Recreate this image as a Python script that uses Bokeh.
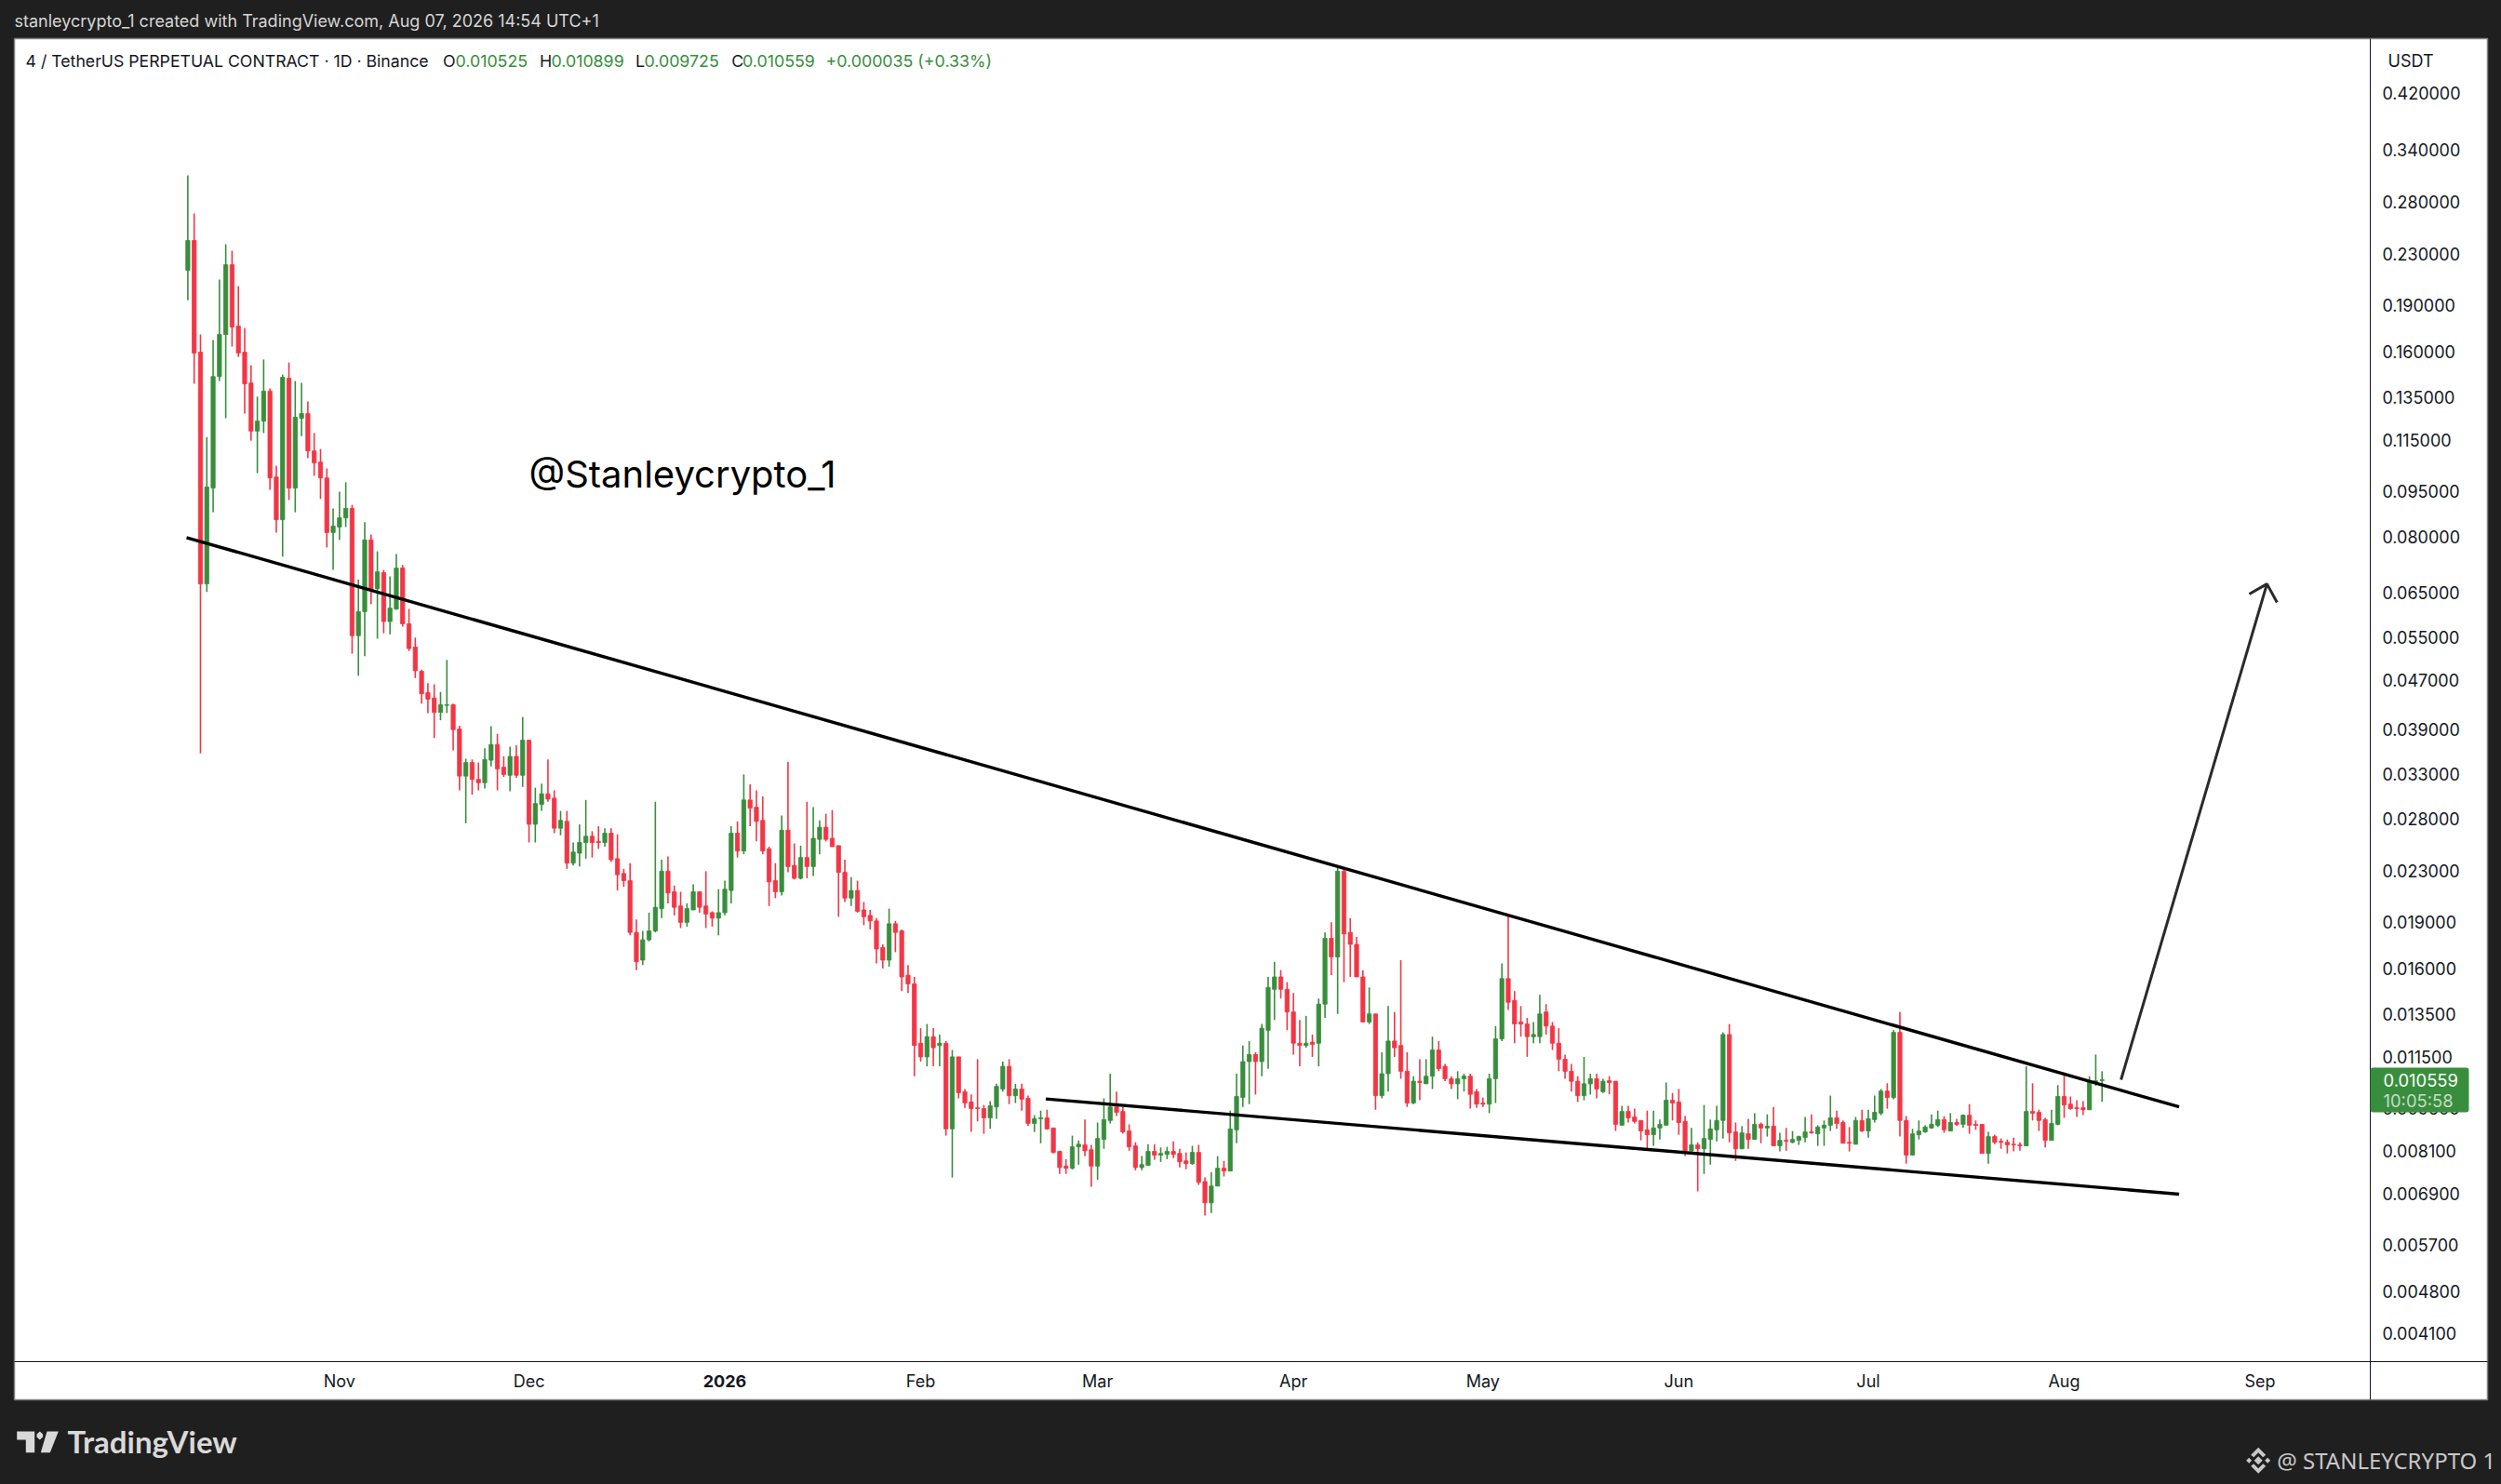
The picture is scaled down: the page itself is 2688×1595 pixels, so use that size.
from bokeh.plotting import figure
from bokeh.embed import file_html
from bokeh.resources import INLINE
from bokeh.models import (ColumnDataSource, Range1d, FixedTicker, NumeralTickFormatter, BoxAnnotation,
                          Label, PolyAnnotation, LogAxis, LinearAxis)

opens = [.2166,.2422,.1596,.0672,.0961,.1457,.1705,.2212,.1759,.1596,.1423,.1189,.1234,.1380,.1002,.0854,.1448,.0961,.1247,.1269,
.1104,.1059,.0998,.0814,.0831,.0860,.0891,.0554,.0606,.0792,.0660,.0701,.0584,.0612,.0713,.0579,.0531,.0485,.0448,.0439,
.0416,.0427,.0428,.0391,.0328,.0345,.0324,.0320,.0348,.0369,.0339,.0329,.0353,.0329,.0375,.0274,.0295,.0307,.0302,.0270,
.0277,.0237,.0246,.0256,.0262,.0257,.0256,.0265,.0241,.0228,.0222,.0183,.0165,.0178,.0184,.0200,.0230,.0213,.0202,.0190,
.0199,.0213,.0202,.0197,.0193,.0197,.0214,.0265,.0248,.0300,.0292,.0278,.0250,.0222,.0213,.0268,.0235,.0224,.0242,.0234,
.0259,.0271,.0260,.0253,.0229,.0208,.0214,.0199,.0195,.0191,.0173,.0165,.0189,.0184,.0156,.0151,.0121,.0115,.0124,.0120,
.0121,.00879,.0115,.0101,.00972,.00951,.00948,.00916,.00954,.0102,.0111,.00995,.0102,.00985,.00897,.00913,.00916,.00882,.00808,.00765,
.00759,.00822,.00828,.00813,.00765,.00845,.00907,.00954,.00938,.00872,.00825,.00761,.00767,.00808,.00797,.00799,.00808,.00802,.0078,.00772,
.00805,.00722,.00667,.0071,.00759,.00751,.00876,.00988,.0113,.0116,.0113,.0127,.0148,.0155,.0148,.0136,.0121,.012,.01215,.0121,
.014,.0179,.0167,.023,.0183,.0175,.0155,.0131,.0135,.00995,.0108,.0122,.012,.0109,.00968,.0105,.0104,.0107,.0118,.0111,
.0106,.0104,.0106,.0107,.0101,.00968,.00964,.0106,.0123,.0154,.0142,.0131,.013,.0124,.0124,.0136,.0129,.0121,.0114,.0109,
.0105,.00995,.0104,.0106,.0101,.01052,.0105,.00891,.00938,.00919,.00907,.00876,.0086,.00882,.00891,.00978,.00972,.00904,.0081,.00828,
.00816,.00845,.00876,.00907,.0125,.00869,.00816,.00863,.00845,.00894,.00882,.00888,.00825,.00842,.00836,.00842,.00851,.00869,.00863,.00882,
.00891,.00916,.009,.00836,.0083,.00907,.00872,.0091,.00932,.01012,.00988,.0126,.00907,.00797,.0086,.00869,.00882,.00891,.0091,.00872,
.009,.00894,.00925,.00894,.00894,.00802,.00854,.00839,.00836,.0083,.00828,.00825,.00938,.00935,.0091,.00842,.00894,.00992,.00964,.00951,
.00951,.00944,.01048,.010525]

highs = [.3088,.2678,.1705,.1163,.1670,.2092,.2388,.2330,.2042,.1747,.1520,.1352,.1553,.1394,.1045,.1468,.1536,.1433,.1423,.1328,
.1180,.1112,.1034,.0891,.0948,.0982,.0903,.0683,.0846,.0808,.0759,.0708,.0691,.0751,.0721,.0612,.0550,.0488,.0464,.0462,
.0449,.0506,.0430,.0396,.0350,.0349,.0345,.0364,.0395,.0384,.0353,.0366,.0368,.0409,.0375,.0314,.0319,.0349,.0311,.0288,
.0288,.0256,.0274,.0300,.0267,.0272,.0270,.0270,.0264,.0232,.0237,.0192,.0184,.0197,.0298,.0240,.0243,.0218,.0213,.0204,
.0219,.0213,.0230,.0198,.0215,.0222,.0272,.0277,.0330,.0318,.0311,.0304,.0252,.0237,.0283,.0346,.0255,.0253,.0298,.0292,
.0278,.0285,.0289,.0253,.0240,.0225,.0222,.0205,.0199,.0193,.0175,.0200,.0191,.0185,.0162,.0155,.0128,.0130,.0128,.0125,
.0122,.0118,.0115,.0102,.0100,.0114,.00961,.00975,.0104,.0113,.0114,.0104,.0104,.00995,.00925,.00941,.00944,.00882,.0081,.00785,
.00857,.00842,.0091,.00828,.0090,.00985,.0108,.0101,.00954,.00894,.00836,.00794,.0083,.0083,.0082,.00822,.00839,.00816,.00805,.00825,
.00828,.00733,.00748,.00794,.0078,.00941,.0108,.0120,.0122,.0117,.0130,.0155,.0164,.0159,.0152,.0146,.0132,.0134,.0125,.0143,
.0183,.0190,.0235,.0232,.0193,.0180,.0159,.0149,.0135,.0117,.0139,.0136,.0165,.0117,.0107,.0114,.0114,.0124,.0122,.0112,
.0107,.0109,.0108,.0108,.0102,.00988,.0108,.0129,.0163,.0195,.0147,.0139,.0133,.0131,.0145,.0140,.0131,.0128,.0116,.0112,
.0107,.0115,.0108,.0108,.0106,.0107,.0105,.00958,.00958,.00948,.00907,.00941,.00941,.0091,.01045,.01005,.0102,.00922,.00882,.00836,
.00961,.0091,.00958,.0126,.0130,.0090,.00888,.00913,.00932,.0090,.00928,.00954,.00866,.00882,.00872,.00857,.00919,.00928,.00891,.00907,
.00995,.00941,.00907,.00885,.00919,.00944,.00944,.00995,.0102,.01042,.0127,.0136,.00922,.00879,.00907,.00891,.00928,.00941,.00922,.00932,
.00913,.00928,.00964,.00907,.00894,.00869,.0086,.00848,.00845,.00851,.00836,.0111,.01042,.00944,.00916,.00944,.01035,.01085,.00992,.00978,
.00975,.0107,.0116,.010899]

lows = [.1938,.1418,.0357,.0652,.0878,.1433,.1247,.1630,.1568,.1269,.1147,.1016,.1180,.0955,.0814,.0744,.0919,.0878,.1167,.1074,
.1006,.0923,.0770,.0708,.0792,.0831,.0518,.0477,.0513,.0623,.0548,.0559,.0557,.0610,.0573,.0523,.0473,.0430,.0415,.0378,
.0404,.0415,.0361,.0311,.0275,.0306,.0311,.0313,.0340,.0311,.0327,.0310,.0326,.0315,.0256,.0256,.0288,.0298,.0265,.0263,
.0232,.0235,.0234,.0241,.0242,.0250,.0252,.0238,.0214,.0217,.0181,.0159,.0162,.0177,.0183,.0193,.0204,.0195,.0186,.0187,
.0199,.0197,.0186,.0187,.0181,.0195,.0204,.0242,.0245,.0272,.0257,.0245,.0202,.0208,.0210,.0229,.0223,.0223,.0224,.0226,
.0245,.0257,.0252,.0194,.0205,.0202,.0197,.0188,.0185,.0163,.0160,.0161,.0170,.0147,.0146,.0107,.0113,.0111,.0111,.0111,
.00857,.00733,.00985,.00951,.00869,.00904,.00863,.00879,.00913,.0101,.00964,.00968,.00941,.00888,.00869,.00833,.00876,.00802,.00743,.00743,
.00755,.00769,.00794,.00708,.00727,.00816,.00897,.00922,.00863,.0081,.00753,.00753,.00767,.00783,.00777,.00785,.00788,.00761,.00756,.00769,
.00713,.00636,.00642,.0071,.00736,.00751,.00833,.00954,.00964,.00999,.0107,.0110,.0132,.0143,.0127,.0116,.0111,.0119,.0115,.0111,
.0133,.0156,.0135,.0152,.0155,.0155,.0131,.0130,.00944,.00985,.0101,.0115,.0106,.00954,.00964,.00978,.0104,.0102,.0109,.0105,
.0102,.00982,.0101,.00948,.00951,.00954,.00932,.00968,.0122,.0137,.0121,.0124,.0115,.0121,.0121,.0125,.0118,.0109,.0106,.0101,
.00972,.00978,.00999,.00985,.01005,.0100,.00872,.00891,.0090,.00897,.00842,.00816,.00825,.00845,.00891,.00907,.0086,.00794,.00799,.00696,
.00743,.00769,.00839,.00848,.00836,.0078,.00816,.00816,.00845,.00833,.00854,.00825,.00808,.0081,.00833,.00828,.00836,.00863,.00825,.00825,
.00872,.00879,.00833,.00808,.0083,.00869,.00851,.0090,.00925,.00948,.00982,.00854,.00772,.00797,.00845,.00866,.00879,.00885,.00866,.00872,
.00888,.00882,.00863,.00876,.00802,.00772,.0083,.00816,.00802,.00808,.0081,.00825,.00907,.00872,.0082,.00842,.00891,.00916,.00944,.00919,
.00925,.00944,.01032,.009725]

closes = [.2422,.1591,.0672,.0965,.1457,.1705,.2212,.1753,.1591,.1418,.1189,.1234,.1380,.0998,.0854,.1453,.0961,.1252,.1269,.1104,
.1056,.0998,.0814,.0834,.0860,.0891,.0554,.0606,.0792,.0655,.0703,.0584,.0614,.0713,.0579,.0528,.0486,.0446,.0437,.0416,
.0428,.0428,.0390,.0328,.0345,.0324,.0320,.0349,.0369,.0337,.0330,.0353,.0329,.0375,.0274,.0296,.0307,.0301,.0270,.0278,
.0237,.0247,.0256,.0262,.0256,.0256,.0265,.0240,.0227,.0222,.0183,.0164,.0178,.0184,.0201,.0230,.0212,.0201,.0190,.0200,
.0213,.0201,.0196,.0193,.0197,.0215,.0265,.0248,.0300,.0291,.0277,.0248,.0221,.0213,.0268,.0234,.0224,.0242,.0234,.0260,
.0271,.0259,.0252,.0229,.0208,.0214,.0198,.0194,.0191,.0172,.0165,.0189,.0183,.0155,.0151,.0120,.0115,.0124,.0119,.0121,
.00879,.0115,.01006,.00968,.00948,.00948,.00916,.00958,.0103,.0111,.00995,.0102,.00982,.00897,.00913,.00916,.00879,.00805,.00761,.00759,
.00822,.0083,.0081,.00765,.00848,.0091,.00954,.00935,.00869,.00822,.00761,.00769,.00808,.00797,.00802,.00808,.00799,.00777,.00772,.00805,
.0072,.00667,.0071,.00759,.00751,.00879,.00992,.0113,.0116,.0113,.0128,.0149,.0155,.0148,.0136,.0121,.0120,.0121,.01205,.0140,
.0179,.0167,.0230,.0182,.0175,.0155,.0131,.0135,.00995,.0108,.0122,.0119,.0109,.00968,.0105,.01045,.0107,.0118,.0110,.0106,
.0104,.0106,.0107,.0100,.00964,.00964,.0106,.0123,.0154,.0141,.0130,.0130,.0124,.0125,.0135,.0129,.0121,.0114,.0109,.0105,
.00995,.0104,.0106,.0102,.0105,.01045,.00894,.00938,.00916,.00904,.00872,.0086,.00882,.00894,.00978,.00968,.0090,.0081,.00828,.00816,
.00848,.00879,.00907,.0125,.00866,.00816,.00866,.00845,.00894,.00882,.00888,.00825,.00842,.00839,.00845,.00854,.00869,.00866,.00885,.00891,
.00916,.00897,.00833,.00833,.00907,.00872,.00913,.00935,.01012,.00988,.0126,.00907,.00797,.00863,.00872,.00885,.00894,.0091,.00876,.0090,
.00894,.00925,.00891,.00891,.00802,.00854,.00836,.00836,.00828,.00828,.00825,.00938,.00932,.00907,.00842,.00897,.00992,.00961,.00948,.00948,
.00944,.0105,.01052,.010559]

price_ticks = [.42,.34,.28,.23,.19,.16,.135,.115,.095,.08,.065,.055,.047,.039,.033,.028,.023,.019,.016,.0135,.0115,.0095,.0081,.0069,.0057,.0048,.0041]
month_days = [24,54,85,116,144,175,205,236,266,297,328]
month_labels = ["Nov","Dec","","Feb","Mar","Apr","May","Jun","Jul","Aug","Sep"]
year_day, year_label = 85, "2026"
upper_trend_days, upper_trend_prices = [-0.2,315.2], [.0799,.00954]
lower_trend_days, lower_trend_prices = [135.8,315.2], [.00983,.00689]
arrow_days, arrow_prices = [306,329.1], [.01056,.0672]
head_days, head_prices = [326.3,329.1,330.7], [.0647,.0672,.0627]
last_close = .010559
pane_left_day, price_axis_day, pane_right_day = -27.45, 345.45, 364.0
pane_top_price, time_axis_price, pane_bottom_price = .5145, .003686, .003197

GREEN, RED, DARK = "#388E3C", "#F23645", "#1F1F1F"
INK = "#131722"
FONT = "Inter"
n = len(closes)
days = list(range(n))
colors = [GREEN if c >= o else RED for o, c in zip(opens, closes)]
src = ColumnDataSource(dict(x=days, o=opens, h=highs, l=lows, c=closes,
                            top=[max(a, b) for a, b in zip(opens, closes)],
                            bottom=[min(a, b) for a, b in zip(opens, closes)], color=colors))

W, H = 2688, 1595
p = figure(width=W, height=H, output_backend="svg", toolbar_location=None,
           y_axis_type="log", x_axis_location=None, y_axis_location=None,
           x_range=Range1d(-29.66, 366.22), y_range=Range1d(.002331, .5932),
           min_border=0, border_fill_color=DARK, background_fill_color=DARK, outline_line_color=None)
p.grid.visible = False

def box(l, r, t, b, color, level="annotation", line=None, lw=1, radius=0):
    p.add_layout(BoxAnnotation(left=l, right=r, top=t, bottom=b,
                               left_units="canvas", right_units="canvas", top_units="canvas", bottom_units="canvas",
                               fill_color=color, fill_alpha=1, line_color=line or color, line_alpha=1 if line else 0,
                               line_width=lw, level=level, border_radius=radius))

def label(x, y, text, color=INK, size=18, align="left", style="normal", font=FONT, units="canvas"):
    p.add_layout(Label(x=x, y=y, text=text, x_units=units, y_units="canvas",
                       text_color=color, text_font_size=f"{size}px", text_font=font, text_align=align,
                       text_baseline="middle", text_font_style=style))

def poly(pts, color):
    p.add_layout(PolyAnnotation(xs=[a for a, _ in pts], ys=[b for _, b in pts], xs_units="canvas", ys_units="canvas",
                                fill_color=color, fill_alpha=1, line_alpha=0, level="annotation"))

box(15, 2673, 41, 1504, "white", level="underlay", line="#808080", lw=1.5)

p.line([pane_left_day, price_axis_day], [last_close, last_close], color=GREEN, line_dash="2 5", line_width=1.5, level="underlay")

p.segment("x", "h", "x", "l", source=src, color="color", line_width=1.6)
p.vbar(x="x", width=0.64, top="top", bottom="bottom", source=src, fill_color="color", line_color="color", line_width=0.8)

p.line(upper_trend_days, upper_trend_prices, color="black", line_width=3.4)
p.line(lower_trend_days, lower_trend_prices, color="black", line_width=3.4)
p.line(arrow_days, arrow_prices, color="#2A2A2A", line_width=3)
p.line(head_days, head_prices, color="#2A2A2A", line_width=3)

ya = LogAxis(fixed_location=price_axis_day, bounds=(pane_bottom_price, pane_top_price))
ya.ticker = FixedTicker(ticks=price_ticks)
ya.formatter = NumeralTickFormatter(format="0.000000")
xa = LinearAxis(fixed_location=time_axis_price, bounds=(pane_left_day, pane_right_day))
xa.ticker = FixedTicker(ticks=month_days)
xa.major_label_overrides = dict(zip(month_days, month_labels))
for axis in (xa, ya):
    axis.major_tick_line_color = None
    axis.minor_tick_line_color = None
    axis.axis_line_color = INK
    axis.axis_line_width = 1
    axis.major_label_text_font = FONT
    axis.major_label_text_font_size = "18px"
    axis.major_label_text_color = INK
ya.major_label_standoff = 7
xa.major_label_standoff = 4
p.add_layout(ya, "right")
p.add_layout(xa, "below")

label(year_day, 1484, year_label, size=18, align="center", style="bold", units="data")
label(2566, 65, "USDT", size=18)

box(2547, 2653, 1147, 1195, GREEN, radius=3)
label(2561, 1160, "0.010559", color="white", size=18.4)
label(2561, 1182, "10:05:58", color="#C6DCC7", size=18.4)

label(15, 22, "stanleycrypto_1 created with TradingView.com, Aug 07, 2026 14:54 UTC+1", color="#D6D6D6", size=18)
label(27, 65, "4 / TetherUS PERPETUAL CONTRACT · 1D · Binance", size=17.7)
for x, t, c in [(475.6, "O", INK), (489, "0.010525", GREEN), (579.5, "H", INK), (592, "0.010899", GREEN),
                (682.6, "L", INK), (692, "0.009725", GREEN), (785.7, "C", INK), (797.6, "0.010559", GREEN),
                (887, "+0.000035 (+0.33%)", GREEN)]:
    label(x, 65, t, color=c, size=17.8)

label(568, 509, "@Stanleycrypto_1", color="black", size=40)

# TradingView wordmark and Binance handle in the footer
LOGO = "#D9D9D9"
poly([(17.7,1538),(36.7,1538),(36.7,1560.7),(27.3,1560.7),(27.3,1547),(17.7,1547)], LOGO)
poly([(39,1541),(42.3,1538),(45.6,1541),(45.6,1544),(42.3,1547),(39,1544)], LOGO)
poly([(50,1538),(62.3,1538),(53.3,1560.7),(43.3,1560.7)], LOGO)
label(72, 1548, "TradingView", color=LOGO, size=33, style="bold", font="Lato")
B = "#C8C8C8"
c0, c1 = 2426.7, 1569.3
for dx in (-10, 0, 10):
    r = 4.5 if dx == 0 else 3
    poly([(c0+dx-r,c1),(c0+dx,c1-r),(c0+dx+r,c1),(c0+dx,c1+r)], B)
poly([(c0-8,c1-6),(c0,c1-14),(c0+8,c1-6),(c0+5,c1-3.5),(c0,c1-8.5),(c0-5,c1-3.5)], B)
poly([(c0-8,c1+6),(c0,c1+14),(c0+8,c1+6),(c0+5,c1+3.5),(c0,c1+8.5),(c0-5,c1+3.5)], B)
label(2446.7, 1569, "@ STANLEYCRYPTO 1", color=B, size=24, font="Noto Sans")

html = file_html(p, INLINE)
html = html.replace("</head>", "<style>html,body{background:#1F1F1F;}</style></head>", 1)
open("out.html", "w").write(html)
